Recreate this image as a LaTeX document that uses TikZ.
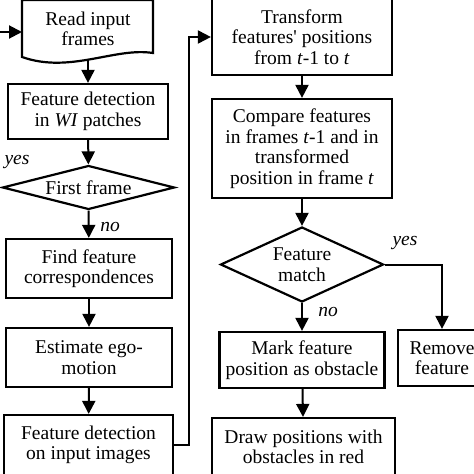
\documentclass[tikz,border=0pt]{standalone}
\usepackage{fontspec}
\setmainfont{Liberation Serif}
\usetikzlibrary{shapes.geometric,arrows.meta}
\tikzset{
	box/.style={draw, line width=2.2pt, inner sep=0pt, align=center,
		font=\fontsize{19.5}{20.5}\selectfont},
	decision/.style={box, diamond},
	arr/.style={line width=2pt, -{Triangle[length=13pt,width=13pt]}},
	lbl/.style={font=\fontsize{19.5}{20.5}\selectfont\itshape, inner sep=0pt}
}
\begin{document}
\begin{tikzpicture}[x=1pt,y=-1pt]
		\useasboundingbox (0,0) rectangle (474,474);
		% left column
		\node[box, draw=none] (readin) at (88,29) {Read input\\frames};
		\draw[line width=2.2pt, line join=miter] (22,0) -- (153,0) -- (153,53) .. controls (115,47) and (70,74) .. (22,57) -- cycle;
		\coordinate (rdW) at (22,32);
		\coordinate (rdS) at (88,60);
		\coordinate (start) at (0,32);
		\node[box, minimum width=160pt, minimum height=55pt] (detwi) at (88,111.5) {Feature detection\\in \textit{WI} patches};
		\node[decision, aspect=3.9, minimum width=172pt, minimum height=44pt] (first) at (88.5,187.5) {First frame};
		\node[box, minimum width=166pt, minimum height=59pt] (find) at (89,268.5) {Find feature\\correspondences};
		\node[box, minimum width=166pt, minimum height=59pt] (ego) at (89,357.5) {Estimate ego-\\motion};
		\node[box, minimum width=169pt, minimum height=60pt] (detinp) at (88.5,445) {Feature detection\\on input images};
		% right column
		\node[box, minimum width=180pt, minimum height=76pt] (trans) at (302,37) {Transform\\features\textquotesingle{} positions\\from \textit{t}-1 to \textit{t}};
		\node[box, minimum width=180pt, minimum height=99pt] (compare) at (302,148.5) {Compare features\\in frames \textit{t}-1 and in\\transformed\\position in frame \textit{t}};
		\node[decision, aspect=2.17, minimum width=163pt, minimum height=75pt] (match) at (302,264.5) {Feature\\match};
		\node[box, minimum width=165pt, minimum height=56pt] (mark) at (302,360) {Mark feature\\position as obstacle};
		\node[box, minimum width=88pt, minimum height=56pt] (remove) at (442,358) {Remove\\feature};
		\node[box, minimum width=183pt, minimum height=58pt] (drawred) at (303.5,447) {Draw positions with\\obstacles in red};
		\coordinate (loopx) at (189,0);
		% labels
		\node[lbl] (yes1) at (17,162) {yes};
		\node[lbl] (no1) at (110,227) {no};
		\node[lbl] (yes2) at (405,243) {yes};
		\node[lbl] (no2) at (328,312) {no};
		% connectors
		\draw[arr] (start) -- (rdW);
		\draw[arr] (rdS) -- (detwi.north);
		\draw[arr] (detwi) -- (first);
		\draw[arr] (first) -- (find);
		\draw[arr] (find) -- (ego);
		\draw[arr] (ego) -- (detinp);
		\draw[arr] (detinp.east) -- (detinp.east -| loopx) |- (trans.west);
		\draw[arr] (trans) -- (compare);
		\draw[arr] (compare) -- (match);
		\draw[arr] (match) -- (mark);
		\draw[arr] (match.east) -| (remove.north);
		\draw[arr] (mark) -- (drawred);
		
		\end{tikzpicture}
\end{document}
